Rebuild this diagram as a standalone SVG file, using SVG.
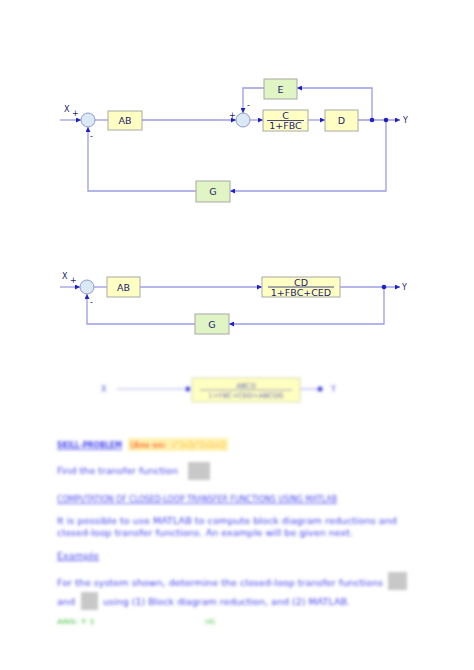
<svg xmlns="http://www.w3.org/2000/svg" width="474" height="670" viewBox="0 0 474 670">
<defs>
<marker id="ah" viewBox="0 0 10 10" refX="10" refY="5" markerWidth="5" markerHeight="5" orient="auto" markerUnits="userSpaceOnUse"><path d="M0,0 L10,5 L0,10 z" fill="#2020c8"/></marker>
<filter id="blur" x="-10%" y="-10%" width="120%" height="120%"><feGaussianBlur stdDeviation="1.8"/></filter>
</defs>
<style>
.ln{fill:none;stroke:#9c9ce6;stroke-width:1.3}
.yb{fill:#ffffc4;stroke:#a8a8a8;stroke-width:1}
.gb{fill:#e0f4c4;stroke:#a8a8a8;stroke-width:1}
.sj{fill:#dbe9f7;stroke:#8c9cc8;stroke-width:1}
.t{font-family:"DejaVu Sans",Verdana,sans-serif;font-size:9.5px;fill:#1c1c70;text-anchor:middle}
.s{font-family:"DejaVu Sans",Verdana,sans-serif;font-size:8px;fill:#1c1c70}
.dot{fill:#2020c8}
.bt{font-family:"DejaVu Sans",Verdana,sans-serif;font-size:9.5px;fill:#4848f0}
</style>
<rect width="474" height="670" fill="#ffffff"/>

<g id="connectors">
<path class="ln" d="M60,120 H81" marker-end="url(#ah)"/>
<path class="ln" d="M95,120 H108"/>
<path class="ln" d="M142,120 H236" marker-end="url(#ah)"/>
<path class="ln" d="M250,120 H263" marker-end="url(#ah)"/>
<path class="ln" d="M308,120 H325" marker-end="url(#ah)"/>
<path class="ln" d="M358,120 H400" marker-end="url(#ah)"/>
<path class="ln" d="M372,120 V88 H297" marker-end="url(#ah)"/>
<path class="ln" d="M264,88 H243 V113" marker-end="url(#ah)"/>
<path class="ln" d="M386,120 V191 H230" marker-end="url(#ah)"/>
<path class="ln" d="M196,191 H88 V127" marker-end="url(#ah)"/>
<circle class="dot" cx="372" cy="120" r="2.3"/>
<circle class="dot" cx="386" cy="120" r="2.3"/>

<path class="ln" d="M60,287 H80" marker-end="url(#ah)"/>
<path class="ln" d="M94,287 H107"/>
<path class="ln" d="M140,287 H262" marker-end="url(#ah)"/>
<path class="ln" d="M340,287 H400" marker-end="url(#ah)"/>
<path class="ln" d="M384,287 V324 H229" marker-end="url(#ah)"/>
<path class="ln" d="M195,324 H87 V294" marker-end="url(#ah)"/>
<circle class="dot" cx="384" cy="287" r="2.3"/>
</g>

<g id="d1-labels">
<text class="s" x="64" y="112">X</text>
<text class="s" x="72" y="116">+</text>
<text class="s" x="90" y="139">-</text>
<text class="s" x="229" y="118">+</text>
<text class="s" x="247" y="108">-</text>
<text class="s" x="403" y="123">Y</text>
</g>
<g id="sum1"><circle class="sj" cx="88" cy="120" r="7"/></g>
<g id="AB1"><rect class="yb" x="108" y="111" width="34" height="19"/><text class="t" x="125" y="124">AB</text></g>
<g id="sum2"><circle class="sj" cx="243" cy="120" r="7"/></g>
<g id="E"><rect class="gb" x="264" y="79" width="33" height="20"/><text class="t" x="280.5" y="92.5">E</text></g>
<g id="C"><rect class="yb" x="263" y="110" width="45" height="21"/><text class="t" x="285.5" y="118.5">C</text><line x1="267" y1="120.5" x2="304" y2="120.5" stroke="#1c1c70" stroke-width="0.8"/><text class="t" x="285.5" y="129">1+FBC</text></g>
<g id="D"><rect class="yb" x="325" y="110" width="33" height="21"/><text class="t" x="341.5" y="124">D</text></g>
<g id="G1"><rect class="gb" x="196" y="181" width="34" height="21"/><text class="t" x="213" y="195">G</text></g>

<g id="d2-labels">
<text class="s" x="62" y="279">X</text>
<text class="s" x="70" y="283">+</text>
<text class="s" x="90" y="305">-</text>
<text class="s" x="402" y="290">Y</text>
</g>
<g id="sum3"><circle class="sj" cx="87" cy="287" r="7"/></g>
<g id="AB2"><rect class="yb" x="107" y="277" width="33" height="20"/><text class="t" x="123.5" y="290.5">AB</text></g>
<g id="CD"><rect class="yb" x="262" y="277" width="78" height="20"/><text class="t" x="301" y="285.5">CD</text><line x1="268" y1="287" x2="334" y2="287" stroke="#1c1c70" stroke-width="0.8"/><text class="t" x="301" y="295.5">1+FBC+CED</text></g>
<g id="G2"><rect class="gb" x="195" y="314" width="34" height="20"/><text class="t" x="212" y="327.5">G</text></g>

<g id="blurred" filter="url(#blur)">
<text class="s" x="101" y="392" style="fill:#6060e0">X</text>
<line x1="117" y1="389" x2="188" y2="389" stroke="#b0b0f0" stroke-width="1.2"/>
<circle cx="188" cy="389" r="2.5" fill="#4040e0"/>
<rect x="192" y="378" width="108" height="24" fill="#ffffc0" stroke="#d8d8b0"/>
<text class="t" x="246" y="388" style="font-size:7px;fill:#4040c0">ABCD</text>
<line x1="200" y1="390" x2="292" y2="390" stroke="#4040c0" stroke-width="0.6"/>
<text class="t" x="246" y="398" style="font-size:7px;fill:#4040c0">1+FBC+CED+ABCDG</text>
<line x1="300" y1="389" x2="320" y2="389" stroke="#b0b0f0" stroke-width="1.2"/>
<circle cx="320" cy="389" r="2.5" fill="#4040e0"/>
<text class="s" x="331" y="392" style="fill:#6060e0">Y</text>

<text class="bt" x="57" y="448" textLength="65" lengthAdjust="spacingAndGlyphs" style="font-weight:bold;font-size:8px;text-decoration:underline">SKILL-PROBLEM</text>
<rect x="128" y="438" width="100" height="13" fill="#fff2b0"/>
<text class="bt" x="130" y="448" textLength="36" lengthAdjust="spacingAndGlyphs" style="fill:#ff6a20;font-weight:bold;font-size:8px">(Ans on:</text>
<text class="bt" x="172" y="448" textLength="54" lengthAdjust="spacingAndGlyphs" style="fill:#ffb000;font-size:8px">s^3+2s^2+2s+1)</text>
<text class="bt" x="57" y="474" textLength="121" lengthAdjust="spacingAndGlyphs">Find the transfer function</text>
<rect x="188" y="462" width="22" height="18" fill="#c8c8c8"/>
<text class="bt" x="57" y="502" textLength="280" lengthAdjust="spacingAndGlyphs" style="font-size:8px;text-decoration:underline">COMPUTATION OF CLOSED-LOOP TRANSFER FUNCTIONS USING MATLAB</text>
<text class="bt" x="57" y="524" textLength="340" lengthAdjust="spacingAndGlyphs">It is possible to use MATLAB to compute block diagram reductions and</text>
<text class="bt" x="57" y="536" textLength="296" lengthAdjust="spacingAndGlyphs">closed-loop transfer functions. An example will be given next.</text>
<text class="bt" x="57" y="559" textLength="42" lengthAdjust="spacingAndGlyphs" style="text-decoration:underline">Example</text>
<text class="bt" x="57" y="586" textLength="326" lengthAdjust="spacingAndGlyphs">For the system shown, determine the closed-loop transfer functions</text>
<rect x="388" y="572" width="19" height="18" fill="#c8c8c8"/>
<text class="bt" x="57" y="605" textLength="18" lengthAdjust="spacingAndGlyphs">and</text>
<rect x="81" y="592" width="17" height="18" fill="#c8c8c8"/>
<text class="bt" x="103" y="605" textLength="247" lengthAdjust="spacingAndGlyphs">using (1) Block diagram reduction, and (2) MATLAB.</text>
<text class="bt" x="57" y="624" textLength="38" lengthAdjust="spacingAndGlyphs" style="fill:#40c040;font-size:7px">ANS: Y 1</text>
<text class="bt" x="205" y="624" style="fill:#40c040;font-size:7px">(4)</text>
</g>
</svg>
